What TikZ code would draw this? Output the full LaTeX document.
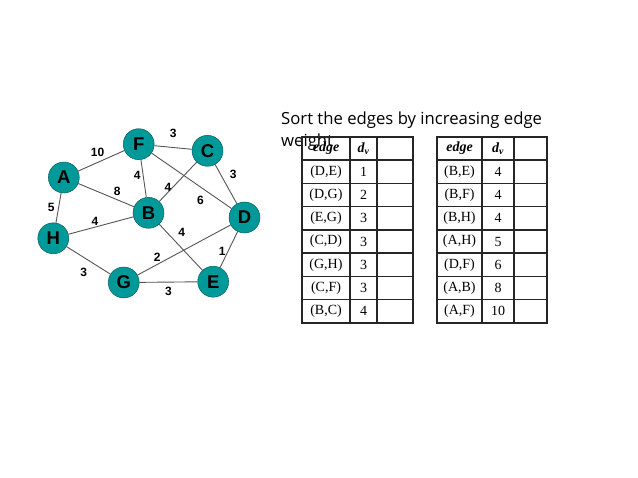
\documentclass[tikz,border=0pt]{standalone}
\usepackage{fontspec}
\newfontfamily\arialfont{Liberation Sans}
\newfontfamily\timesfont{Liberation Serif}
\newfontfamily\titlefont{Open Sans}
\definecolor{vteal}{RGB}{0,153,153}
\definecolor{vrim}{RGB}{0,80,80}
\definecolor{linkgrey}{RGB}{85,85,85}
\tikzset{
  vertex/.style={circle,draw=vrim,fill=vteal,minimum size=31pt,inner sep=0pt,
    font=\arialfont\bfseries\fontsize{18.5}{18.5}\selectfont},
  wt/.style={inner sep=1pt,font=\arialfont\bfseries\fontsize{12}{12}\selectfont},
  link/.style={draw=linkgrey,line width=0.9pt},
  cell/.style={inner sep=0pt,font=\timesfont\fontsize{14}{14}\selectfont},
  tablerule/.style={line width=1.5pt,black!85}
}
\begin{document}
\begin{tikzpicture}[x=1pt,y=-1pt]
    \useasboundingbox (0,0) rectangle (638,478);
    % graph
    \node[vertex] (f) at (138.7,144.2) {F};
    \node[vertex] (c) at (207.5,150.8) {C};
    \node[vertex] (a) at (63.8,177.5) {A};
    \node[vertex] (b) at (148.5,212.8) {B};
    \node[vertex] (d) at (244.5,217.5) {D};
    \node[vertex] (h) at (53.3,238.3) {H};
    \node[vertex] (g) at (123.7,282.5) {G};
    \node[vertex] (e) at (213.2,281.7) {E};
    \draw [link] (a) -- node [wt,above=4.5pt,pos=.42] {10} (f);
    \draw [link] (f) -- node [wt,above=8.5pt,midway] {3} (c);
    \draw [link] (f) -- node [wt,left=1pt,pos=.41] {4} (b);
    \draw [link] (b) -- node [wt,left,pos=.36] {4} (c);
    \draw [link] (c) -- node [wt,right=8pt,pos=.24] {3} (d);
    \draw [link] (a) -- node [wt,above=2.5pt,pos=.70] {8} (b);
    \draw [link] (f) -- node [wt,below=7.5pt,pos=.61] {6} (d);
    \draw [link] (a) -- node [wt,left=2.5pt,midway] {5} (h);
    \draw [link] (h) -- node [wt,above,pos=.41] {4} (b);
    \draw [link] (b) -- node [wt,above right=2.5pt,pos=.35] {4} (e);
    \draw [link] (g) -- node [wt,above=2pt,pos=.21] {2} (d);
    \draw [link] (d) -- node [wt,left=1pt,pos=.55] {1} (e);
    \draw [link] (h) -- node [wt,below=9.5pt,pos=.39] {3} (g);
    \draw [link] (g) -- node [wt,below=3.5pt,midway] {3} (e);
    % title
    \node [anchor=north west,inner sep=0pt,align=left,
      font=\titlefont\fontsize{16.7}{21.5}\selectfont] (title) at (281,112)
      {Sort the edges by increasing edge\\weight};
    % left table
    \draw [tablerule] (302,137) rectangle (413,323);
    \foreach \r in {1,...,7}
      \draw [tablerule] (302,{137+23.25*\r}) -- (413,{137+23.25*\r});
    \draw [tablerule] (350,137) -- (350,323);
    \draw [tablerule] (377,137) -- (377,323);
    \node [cell] (lh1) at (326,148.6) {\bfseries\itshape edge};
    \node [cell] (lh2) at (363.5,148.6) {\bfseries\itshape d\textsubscript{v}};
    \foreach \p/\q/\w [count=\i] in {D/E/1,D/G/2,E/G/3,C/D/3,G/H/3,C/F/3,B/C/4} {
      \node [cell] (le\i) at (326,{137+23.25*(\i+0.5)}) {(\p,\q)};
      \node [cell] (lw\i) at (363.5,{137+23.25*(\i+0.5)}) {\w};
    }
    % right table
    \draw [tablerule] (437,137) rectangle (547,323);
    \foreach \r in {1,...,7}
      \draw [tablerule] (437,{137+23.25*\r}) -- (547,{137+23.25*\r});
    \draw [tablerule] (482,137) -- (482,323);
    \draw [tablerule] (514,137) -- (514,323);
    \node [cell] (rh1) at (459.5,148.6) {\bfseries\itshape edge};
    \node [cell] (rh2) at (498,148.6) {\bfseries\itshape d\textsubscript{v}};
    \foreach \p/\q/\w [count=\i] in {B/E/4,B/F/4,B/H/4,A/H/5,D/F/6,A/B/8,A/F/10} {
      \node [cell] (re\i) at (459.5,{137+23.25*(\i+0.5)}) {(\p,\q)};
      \node [cell] (rw\i) at (498,{137+23.25*(\i+0.5)}) {\w};
    }
  \end{tikzpicture}
\end{document}
